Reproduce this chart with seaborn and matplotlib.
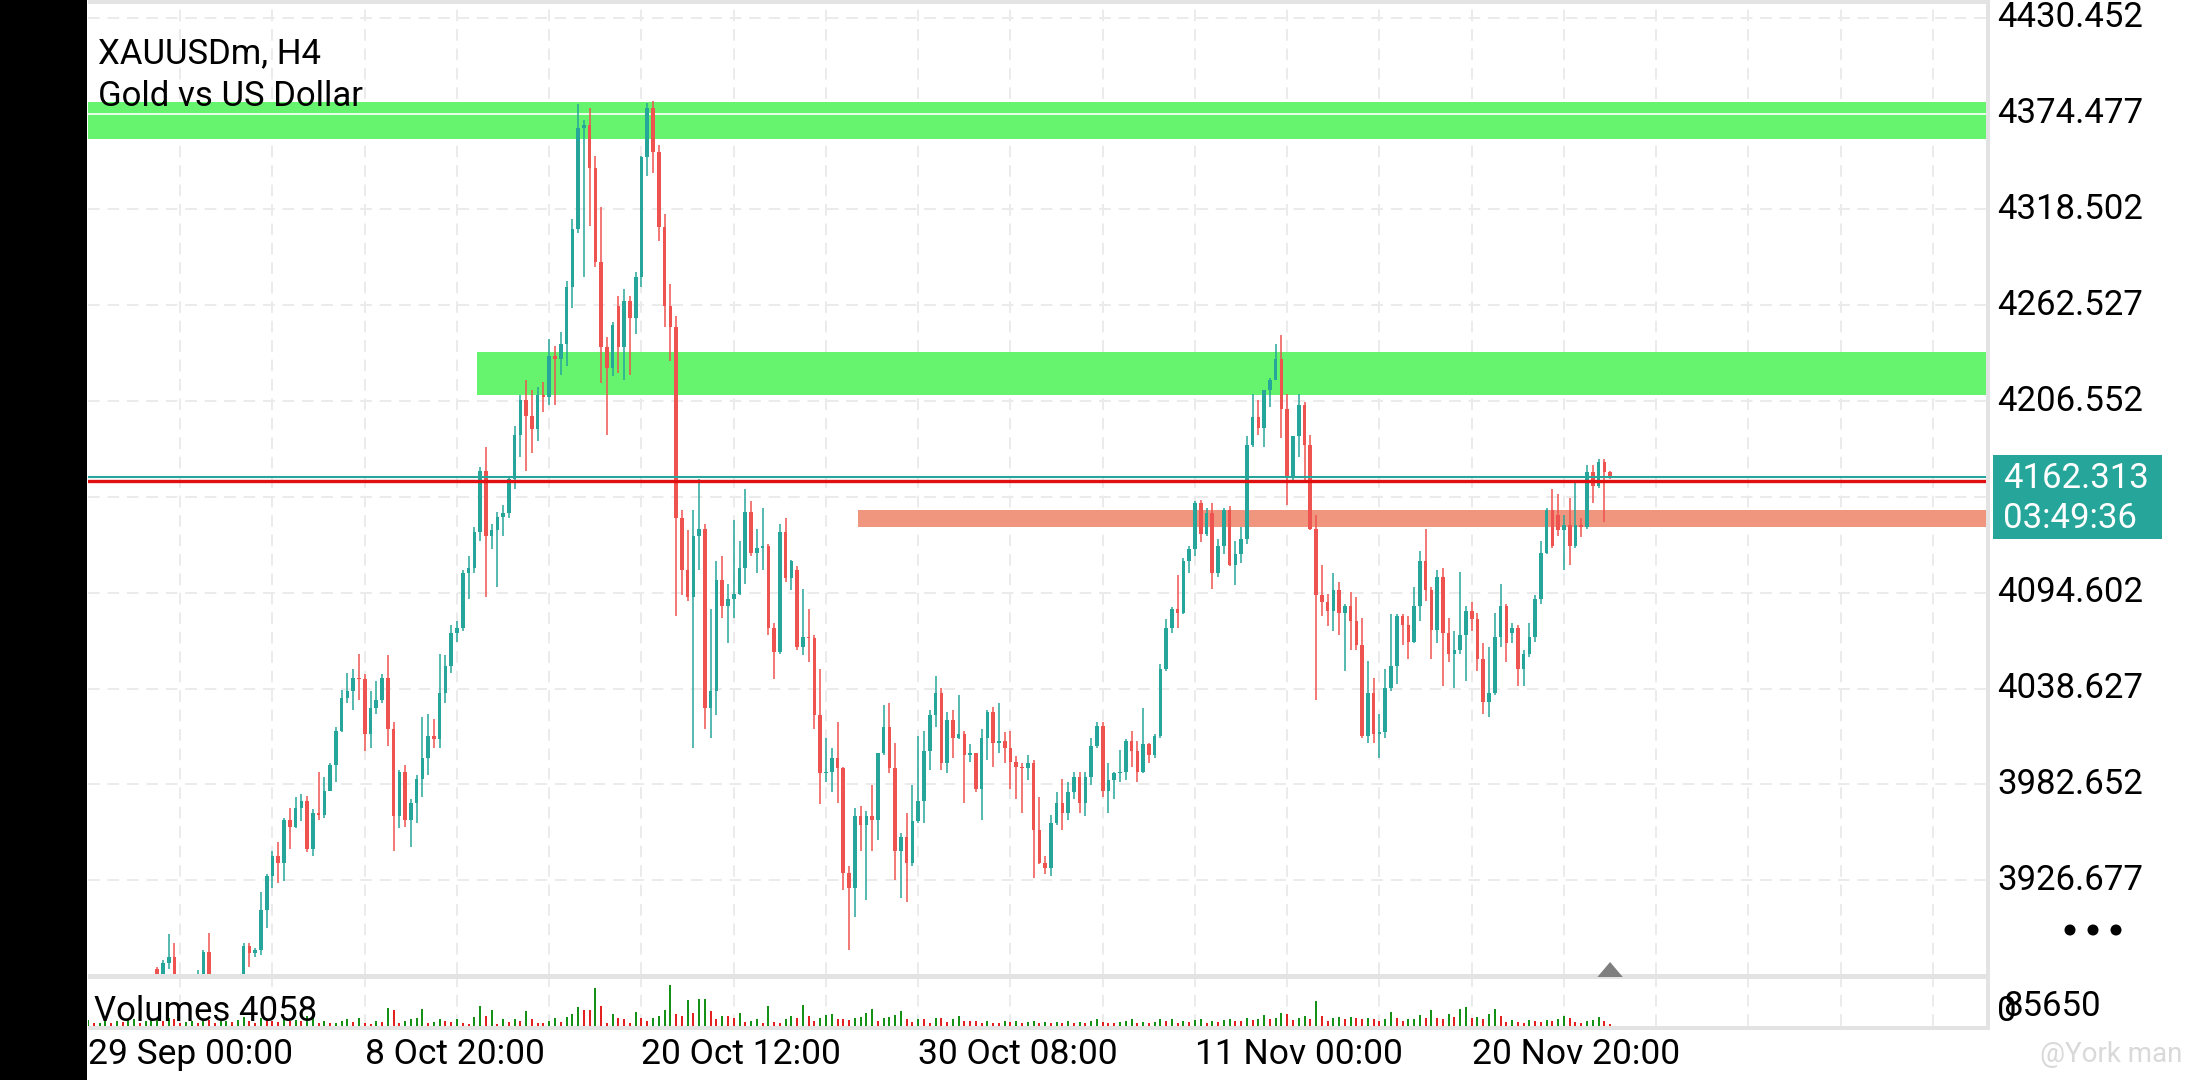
import numpy as np
import pandas as pd
import matplotlib
matplotlib.use("Agg")
import matplotlib.pyplot as plt
import seaborn as sns
from matplotlib.patches import Rectangle, Ellipse, Polygon
from matplotlib.transforms import blended_transform_factory

sns.set_theme(style="white")
plt.rcParams['font.family'] = ['Roboto', 'DejaVu Sans']

# --- candles (H4) ---
opens = [
    3760, 3785, 3804, 3816, 3826, 3820, 3833, 3846, 3858, 3829,
    3841, 3852, 3875, 3864, 3878, 3882, 3854, 3860, 3851, 3858,
    3866, 3885, 3861, 3850, 3857, 3831, 3840, 3855, 3888, 3884,
    3886, 3909, 3929, 3941, 3937, 3962, 3958, 3969, 3973, 3945,
    3966, 3965, 3979, 3994, 4014, 4033, 4037, 4045, 4044, 4012,
    4027, 4032, 4045, 4015, 3964, 3990, 3962, 3972, 3986, 3998,
    4011, 4009, 4036, 4052, 4071, 4074, 4106, 4109, 4130, 4166,
    4128, 4131, 4139, 4141, 4161, 4187, 4207, 4198, 4190, 4210,
    4209, 4233, 4231, 4240, 4273, 4307, 4366, 4368, 4343, 4288,
    4238, 4226, 4262, 4238, 4265, 4255, 4279, 4349, 4378, 4352,
    4308, 4262, 4250, 4138, 4108, 4092, 4128, 4132, 4027, 4037,
    4102, 4087, 4091, 4094, 4109, 4142, 4118, 4121, 4122, 4074,
    4060, 4130, 4103, 4108, 4063, 4069, 4068, 4023, 3989, 3990,
    3998, 3992, 3931, 3922, 3964, 3959, 3964, 3962, 4001, 4016,
    3992, 3944, 3952, 3937, 3961, 3973, 4002, 4023, 4036, 3995,
    4020, 4010, 4012, 4000, 4001, 3980, 4010, 4025, 4007, 4008,
    4004, 3996, 3993, 3992, 3995, 3956, 3937, 3934, 3960, 3972,
    3966, 3978, 3987, 3972, 3987, 4005, 4017, 3979, 3985, 3989,
    3990, 4008, 4002, 3990, 4006, 4000, 4011, 4050, 4074, 4085,
    4083, 4113, 4120, 4147, 4129, 4141, 4106, 4122, 4143, 4111,
    4117, 4126, 4181, 4197, 4191, 4213, 4219, 4231, 4202, 4163,
    4186, 4204, 4181, 4132, 4093, 4089, 4084, 4096, 4083, 4087,
    4078, 4064, 4011, 4036, 4012, 4013, 4039, 4052, 4081, 4076,
    4066, 4087, 4113, 4096, 4073, 4104, 4071, 4059, 4061, 4070,
    4084, 4079, 4056, 4031, 4036, 4069, 4087, 4071, 4074, 4050,
    4059, 4069, 4091, 4118, 4143, 4140, 4131, 4134, 4122, 4134,
    4133, 4165, 4157, 4171, 4165,
]
highs = [
    3792, 3808, 3822, 3830, 3836, 3838, 3851, 3864, 3866, 3846,
    3860, 3871, 3876, 3880, 3895, 3890, 3866, 3868, 3864, 3874,
    3886, 3896, 3868, 3863, 3866, 3846, 3861, 3890, 3890, 3887,
    3920, 3930, 3944, 3949, 3963, 3969, 3975, 3977, 3976, 3968,
    3990, 3987, 3995, 4016, 4038, 4048, 4050, 4059, 4047, 4037,
    4043, 4047, 4058, 4019, 3991, 3994, 3974, 3988, 4022, 4024,
    4021, 4059, 4058, 4076, 4078, 4108, 4116, 4133, 4168, 4180,
    4135, 4142, 4146, 4162, 4192, 4210, 4219, 4213, 4215, 4218,
    4243, 4239, 4247, 4277, 4313, 4380, 4371, 4378, 4350, 4320,
    4244, 4253, 4268, 4272, 4268, 4282, 4350, 4381, 4382, 4356,
    4316, 4275, 4256, 4143, 4131, 4143, 4161, 4135, 4085, 4113,
    4116, 4100, 4137, 4125, 4155, 4148, 4132, 4144, 4123, 4077,
    4135, 4138, 4114, 4110, 4097, 4085, 4070, 4050, 4010, 4004,
    4019, 3993, 3935, 3969, 3970, 3967, 3982, 4001, 4029, 4030,
    4007, 3954, 3966, 3982, 4011, 4014, 4026, 4046, 4039, 4025,
    4026, 4035, 4014, 4006, 4001, 4015, 4026, 4028, 4030, 4013,
    4014, 3999, 3995, 4000, 3997, 3975, 3941, 3965, 3978, 3986,
    3984, 3990, 3990, 3990, 4010, 4019, 4019, 3995, 3990, 4003,
    4009, 4014, 4008, 4027, 4007, 4012, 4053, 4079, 4086, 4105,
    4115, 4122, 4148, 4149, 4144, 4147, 4126, 4144, 4145, 4125,
    4133, 4186, 4211, 4207, 4213, 4220, 4240, 4245, 4211, 4186,
    4211, 4206, 4187, 4140, 4111, 4094, 4106, 4101, 4088, 4095,
    4092, 4080, 4055, 4045, 4024, 4050, 4082, 4082, 4082, 4081,
    4098, 4119, 4132, 4098, 4108, 4109, 4080, 4072, 4107, 4087,
    4089, 4083, 4065, 4063, 4083, 4100, 4088, 4077, 4076, 4061,
    4077, 4093, 4125, 4144, 4155, 4152, 4140, 4150, 4159, 4138,
    4169, 4169, 4173, 4173, 4166,
]
lows = [
    3755, 3778, 3798, 3806, 3812, 3815, 3828, 3840, 3818, 3815,
    3835, 3846, 3858, 3858, 3875, 3848, 3842, 3846, 3838, 3852,
    3862, 3856, 3844, 3840, 3822, 3820, 3835, 3850, 3876, 3882,
    3883, 3899, 3922, 3925, 3926, 3945, 3957, 3961, 3943, 3941,
    3962, 3963, 3979, 3984, 4013, 4030, 4026, 4032, 4002, 4004,
    4024, 4030, 4005, 3944, 3957, 3958, 3946, 3960, 3975, 3988,
    4004, 4004, 4030, 4048, 4066, 4072, 4091, 4106, 4125, 4092,
    4120, 4098, 4128, 4138, 4155, 4174, 4166, 4176, 4183, 4200,
    4204, 4204, 4222, 4227, 4261, 4305, 4279, 4309, 4285, 4217,
    4187, 4221, 4223, 4219, 4222, 4246, 4273, 4338, 4340, 4300,
    4250, 4230, 4081, 4093, 4090, 4004, 4108, 4015, 4010, 4023,
    4080, 4065, 4080, 4093, 4100, 4116, 4106, 4108, 4070, 4044,
    4059, 4101, 4096, 4061, 4058, 4054, 4015, 3971, 3984, 3978,
    3972, 3921, 3886, 3905, 3944, 3915, 3944, 3950, 4000, 3989,
    3927, 3916, 3914, 3935, 3960, 3960, 3991, 4016, 3991, 3989,
    3998, 4009, 3972, 3996, 3978, 3962, 3997, 3993, 4001, 3995,
    3980, 3974, 3966, 3985, 3928, 3936, 3930, 3929, 3959, 3956,
    3962, 3974, 3966, 3964, 3982, 4004, 3975, 3966, 3974, 3984,
    3985, 3993, 3984, 3989, 3995, 3998, 4010, 4049, 4071, 4074,
    4082, 4106, 4116, 4124, 4128, 4097, 4104, 4117, 4110, 4099,
    4112, 4123, 4180, 4187, 4180, 4203, 4219, 4185, 4146, 4160,
    4174, 4160, 4131, 4032, 4081, 4075, 4072, 4070, 4049, 4061,
    4061, 4010, 4007, 4007, 3998, 4010, 4037, 4041, 4064, 4056,
    4065, 4078, 4090, 4056, 4065, 4040, 4054, 4039, 4059, 4043,
    4072, 4049, 4024, 4022, 4035, 4063, 4054, 4065, 4040, 4040,
    4057, 4066, 4088, 4117, 4121, 4128, 4108, 4111, 4121, 4127,
    4132, 4147, 4156, 4136, 4161,
]
closes = [
    3785, 3804, 3816, 3826, 3820, 3833, 3846, 3858, 3829, 3841,
    3852, 3869, 3864, 3878, 3882, 3854, 3860, 3851, 3858, 3866,
    3885, 3861, 3850, 3857, 3831, 3840, 3855, 3888, 3884, 3886,
    3909, 3929, 3941, 3937, 3962, 3958, 3969, 3973, 3945, 3966,
    3965, 3979, 3994, 4014, 4033, 4037, 4045, 4044, 4012, 4027,
    4032, 4045, 4015, 3964, 3990, 3962, 3972, 3986, 3998, 4011,
    4009, 4036, 4052, 4071, 4074, 4106, 4109, 4130, 4166, 4128,
    4131, 4139, 4141, 4161, 4187, 4207, 4198, 4190, 4210, 4209,
    4233, 4231, 4240, 4273, 4307, 4366, 4368, 4343, 4288, 4238,
    4226, 4251, 4238, 4265, 4255, 4279, 4349, 4378, 4352, 4308,
    4262, 4250, 4138, 4108, 4092, 4128, 4132, 4027, 4037, 4102,
    4087, 4091, 4094, 4109, 4142, 4118, 4121, 4122, 4074, 4060,
    4130, 4103, 4113, 4063, 4069, 4068, 4023, 3989, 3990, 3998,
    3992, 3931, 3922, 3964, 3959, 3964, 3962, 4001, 4016, 3992,
    3944, 3952, 3937, 3961, 3973, 4002, 4023, 4036, 3995, 4020,
    4010, 4012, 4000, 4001, 3980, 4010, 4025, 4007, 4008, 4004,
    3996, 3993, 3992, 3995, 3956, 3937, 3934, 3960, 3972, 3966,
    3978, 3987, 3972, 3987, 4005, 4017, 3979, 3985, 3989, 3990,
    4008, 4002, 3990, 4006, 4000, 4011, 4050, 4074, 4085, 4083,
    4113, 4120, 4147, 4129, 4141, 4106, 4122, 4143, 4111, 4117,
    4126, 4181, 4197, 4191, 4213, 4219, 4231, 4202, 4163, 4186,
    4204, 4181, 4132, 4093, 4089, 4084, 4096, 4083, 4087, 4078,
    4064, 4011, 4036, 4012, 4013, 4039, 4052, 4081, 4076, 4066,
    4087, 4113, 4096, 4073, 4104, 4071, 4059, 4061, 4070, 4084,
    4079, 4056, 4031, 4036, 4069, 4087, 4065, 4074, 4050, 4059,
    4069, 4091, 4118, 4143, 4122, 4131, 4134, 4122, 4134, 4133,
    4165, 4157, 4171, 4165, 4162.313,
]
volumes = [
    10800, 4800, 6000, 8400, 6000, 9600, 7200, 12000, 13200, 4800,
    8400, 10800, 12000, 9000, 15000, 12000, 4800, 7200, 9600, 6000,
    13200, 10800, 6000, 8400, 9600, 7200, 10800, 15600, 8400, 6000,
    14400, 12000, 9600, 7200, 13200, 8400, 10800, 9600, 18000, 25200,
    6000, 8400, 4800, 6000, 9000, 12000, 7200, 15000, 4800, 3000,
    9000, 7200, 33000, 30000, 4800, 9000, 12000, 15000, 31200, 6000,
    7200, 13200, 9000, 7200, 12000, 4800, 3000, 16800, 36000, 18000,
    30000, 3000, 12000, 7200, 12000, 9000, 27000, 12000, 6000, 6000,
    9000, 15000, 7200, 16800, 21000, 34800, 28800, 28800, 69000, 37200,
    4800, 21000, 15000, 12000, 6000, 25200, 15000, 9000, 15000, 18000,
    30000, 75000, 21000, 18000, 48000, 24000, 49200, 49800, 27000, 12000,
    18000, 18000, 15000, 24000, 7200, 9000, 12000, 6000, 36000, 7200,
    4800, 12000, 18000, 15000, 39000, 18000, 9000, 15000, 19200, 21000,
    12000, 12000, 10800, 15000, 16800, 24000, 31200, 9000, 15000, 16800,
    19200, 27000, 12000, 7200, 12000, 12000, 6000, 15000, 15000, 7200,
    12000, 18000, 9000, 9000, 9000, 6000, 9000, 6000, 4800, 9000,
    7200, 9000, 6000, 7200, 9000, 4800, 7200, 6000, 7200, 6000,
    9000, 4800, 7200, 6000, 9000, 12000, 7200, 6000, 4800, 7200,
    9000, 12000, 6000, 7200, 4800, 7200, 13200, 9000, 13200, 6000,
    9000, 7200, 10800, 13200, 6000, 9000, 7200, 10800, 12000, 9000,
    9000, 15000, 10800, 13200, 19200, 12000, 15000, 24000, 21000, 10800,
    15000, 18000, 12000, 45000, 18000, 9000, 15000, 16800, 12000, 16800,
    15000, 13200, 15000, 12000, 9000, 12000, 25200, 15000, 9000, 12000,
    13200, 19200, 15000, 28800, 15000, 12000, 21000, 16800, 31200, 34800,
    15000, 16800, 12000, 21000, 31200, 18000, 7200, 10800, 7200, 6000,
    10800, 9000, 7200, 10800, 9000, 12000, 18000, 15000, 7200, 6000,
    9000, 10800, 16800, 9000, 4058,
]

price_ticks = [3926.677, 3982.652, 4038.627, 4094.602, 4150.577,
               4206.552, 4262.527, 4318.502, 4374.477, 4430.452]
hidden_tick = 4150.577  # covered by the price box
date_labels = ["29 Sep 00:00", "8 Oct 20:00", "20 Oct 12:00",
               "30 Oct 08:00", "11 Nov 00:00", "20 Nov 20:00"]
date_bars = [0, 48, 96, 144, 192, 240]

# supply / demand zones: (low, high, first bar)
zone_lows = [4359.6, 4210.0, 4133.2]
zone_highs = [4381.2, 4235.0, 4143.0]
zone_starts = [0, 68, 134]
zone_colors = ['#66f46e', '#66f46e', '#f0967f']

bid_price = 4162.313
red_level = 4159.9
timer_text = "03:49:36"
vol_max = 85650

TEAL = '#26a69a'
RED = '#ef5350'
GRID = '#ebebeb'

W, H = 2190, 1080


def fx(px):
    return px / W


def fy(py):
    return 1 - py / H


df = pd.DataFrame({'open': opens, 'high': highs, 'low': lows,
                   'close': closes, 'volume': volumes})
df['x'] = np.arange(len(df))
df['up'] = df['close'] >= df['open']
df['color'] = np.where(df['up'], TEAL, RED)
vol_up = df['volume'].diff().fillna(1) > 0
df['vcolor'] = np.where(vol_up, '#0f8f0f', '#e31b1b')

fig = plt.figure(figsize=(W / 100, H / 100), dpi=100)
fig.patch.set_facecolor('white')

x_right = 329.2
y_lo, y_hi = 3871.86, 4438.56

ax = fig.add_axes([fx(88), fy(974), fx(1986) - fx(88), (974 - 4) / H])
ax.set_axis_off()
axv = fig.add_axes([fx(88), fy(1026), fx(1986) - fx(88), (1026 - 979) / H])
axv.set_axis_off()

# grid
for p in price_ticks:
    ax.axhline(p, color=GRID, lw=1.4, ls=(0, (6, 4)), zorder=0.5)
for v in range(16, int(x_right) + 1, 16):
    ax.axvline(v, color=GRID, lw=1.4, ls=(0, (6, 4)), zorder=0.5)
    axv.axvline(v, color=GRID, lw=1.4, ls=(0, (6, 4)), zorder=0.5)

# zones
for lo, hi, x0, c in zip(zone_lows, zone_highs, zone_starts, zone_colors):
    ax.fill_between([x0 - 0.5, x_right], lo, hi, color=c, lw=0, zorder=1)
ax.axhline(price_ticks[8], color='white', lw=1.2, zorder=1.5)

# candles
ax.vlines(df['x'], df['low'], df['high'], colors=df['color'], lw=1.1, zorder=3)
body = np.maximum((df['close'] - df['open']).abs(), 0.8)
ax.bar(df['x'], body, bottom=np.minimum(df['open'], df['close']),
       width=0.62, color=df['color'], linewidth=0, zorder=4)

# bid / level lines
ax.axhline(bid_price, color=TEAL, lw=1.5, zorder=5)
ax.axhline(red_level, color='#e01010', lw=2.4, zorder=5)

ax.set_xlim(0, x_right)
ax.set_ylim(y_lo, y_hi)

# volumes
axv.vlines(df['x'], 0, df['volume'], colors=df['vcolor'], lw=1.4, zorder=3)
axv.set_xlim(0, x_right)
axv.set_ylim(0, vol_max)

# frame pieces
gray = '#e3e3e3'
for x0, y0, x1, y1 in [(88, 0, 1990, 4), (88, 974, 1990, 979),
                       (88, 1026, 1990, 1030), (1986, 0, 1990, 1030)]:
    fig.add_artist(Rectangle((fx(x0), fy(y1)), fx(x1) - fx(x0), (y1 - y0) / H,
                             transform=fig.transFigure, color=gray, lw=0))
fig.add_artist(Rectangle((0, 0), fx(87), 1, transform=fig.transFigure,
                         color='black', lw=0))

# price scale labels
tr_price = blended_transform_factory(fig.transFigure, ax.transData)
for p in price_ticks:
    if p == hidden_tick:
        continue
    fig.text(fx(1997), p, f"{p:.3f}", transform=tr_price, fontsize=25,
             color='black', va='center', ha='left')

# current price box
fig.add_artist(Rectangle((fx(1993), fy(539)), fx(2162) - fx(1993), 84 / H,
                         transform=fig.transFigure, color=TEAL, lw=0))
fig.text(fx(2003), fy(478), f"{bid_price:.3f}", fontsize=25, color='white',
         va='center', ha='left')
fig.text(fx(2003), fy(518), timer_text, fontsize=25, color='white',
         va='center', ha='left')

# symbol texts
fig.text(fx(98), fy(63), "XAUUSDm, H4", fontsize=25, color='black',
         va='baseline', ha='left')
fig.text(fx(98), fy(106), "Gold vs US Dollar", fontsize=25, color='black',
         va='baseline', ha='left')

# volume labels (the 0 and max labels sit on top of each other, as in MT5)
fig.text(fx(94), fy(1021), f"Volumes {volumes[-1]}", fontsize=25,
         color='black', va='baseline', ha='left')
fig.text(fx(2003), fy(1016), f"{vol_max}", fontsize=25, color='black',
         va='baseline', ha='left')
fig.text(fx(1997), fy(1021), "0", fontsize=25, color='black',
         va='baseline', ha='left')

# date labels
tr_date = blended_transform_factory(axv.transData, fig.transFigure)
for b, lab in zip(date_bars, date_labels):
    fig.text(b, fy(1064), lab, transform=tr_date, fontsize=25.5,
             color='black', va='baseline', ha='left')

# last-bar marker and menu dots
last = df['x'].iloc[-1]
tr_tri = blended_transform_factory(ax.transData, fig.transFigure)
fig.add_artist(Polygon([(last - 2.2, fy(977)), (last + 2.2, fy(977)),
                        (last, fy(962))], closed=True, transform=tr_tri,
                       color='#7f7f7f', lw=0))
for cx in [2070, 2093, 2116]:
    fig.add_artist(Ellipse((fx(cx), fy(930)), 11 / W, 11 / H,
                           transform=fig.transFigure, color='black', lw=0))

# watermark
fig.text(fx(2040), fy(1062), "@York man", fontsize=20, color='#d9d9d9',
         va='baseline', ha='left')

fig.savefig('out.png', dpi=100)
